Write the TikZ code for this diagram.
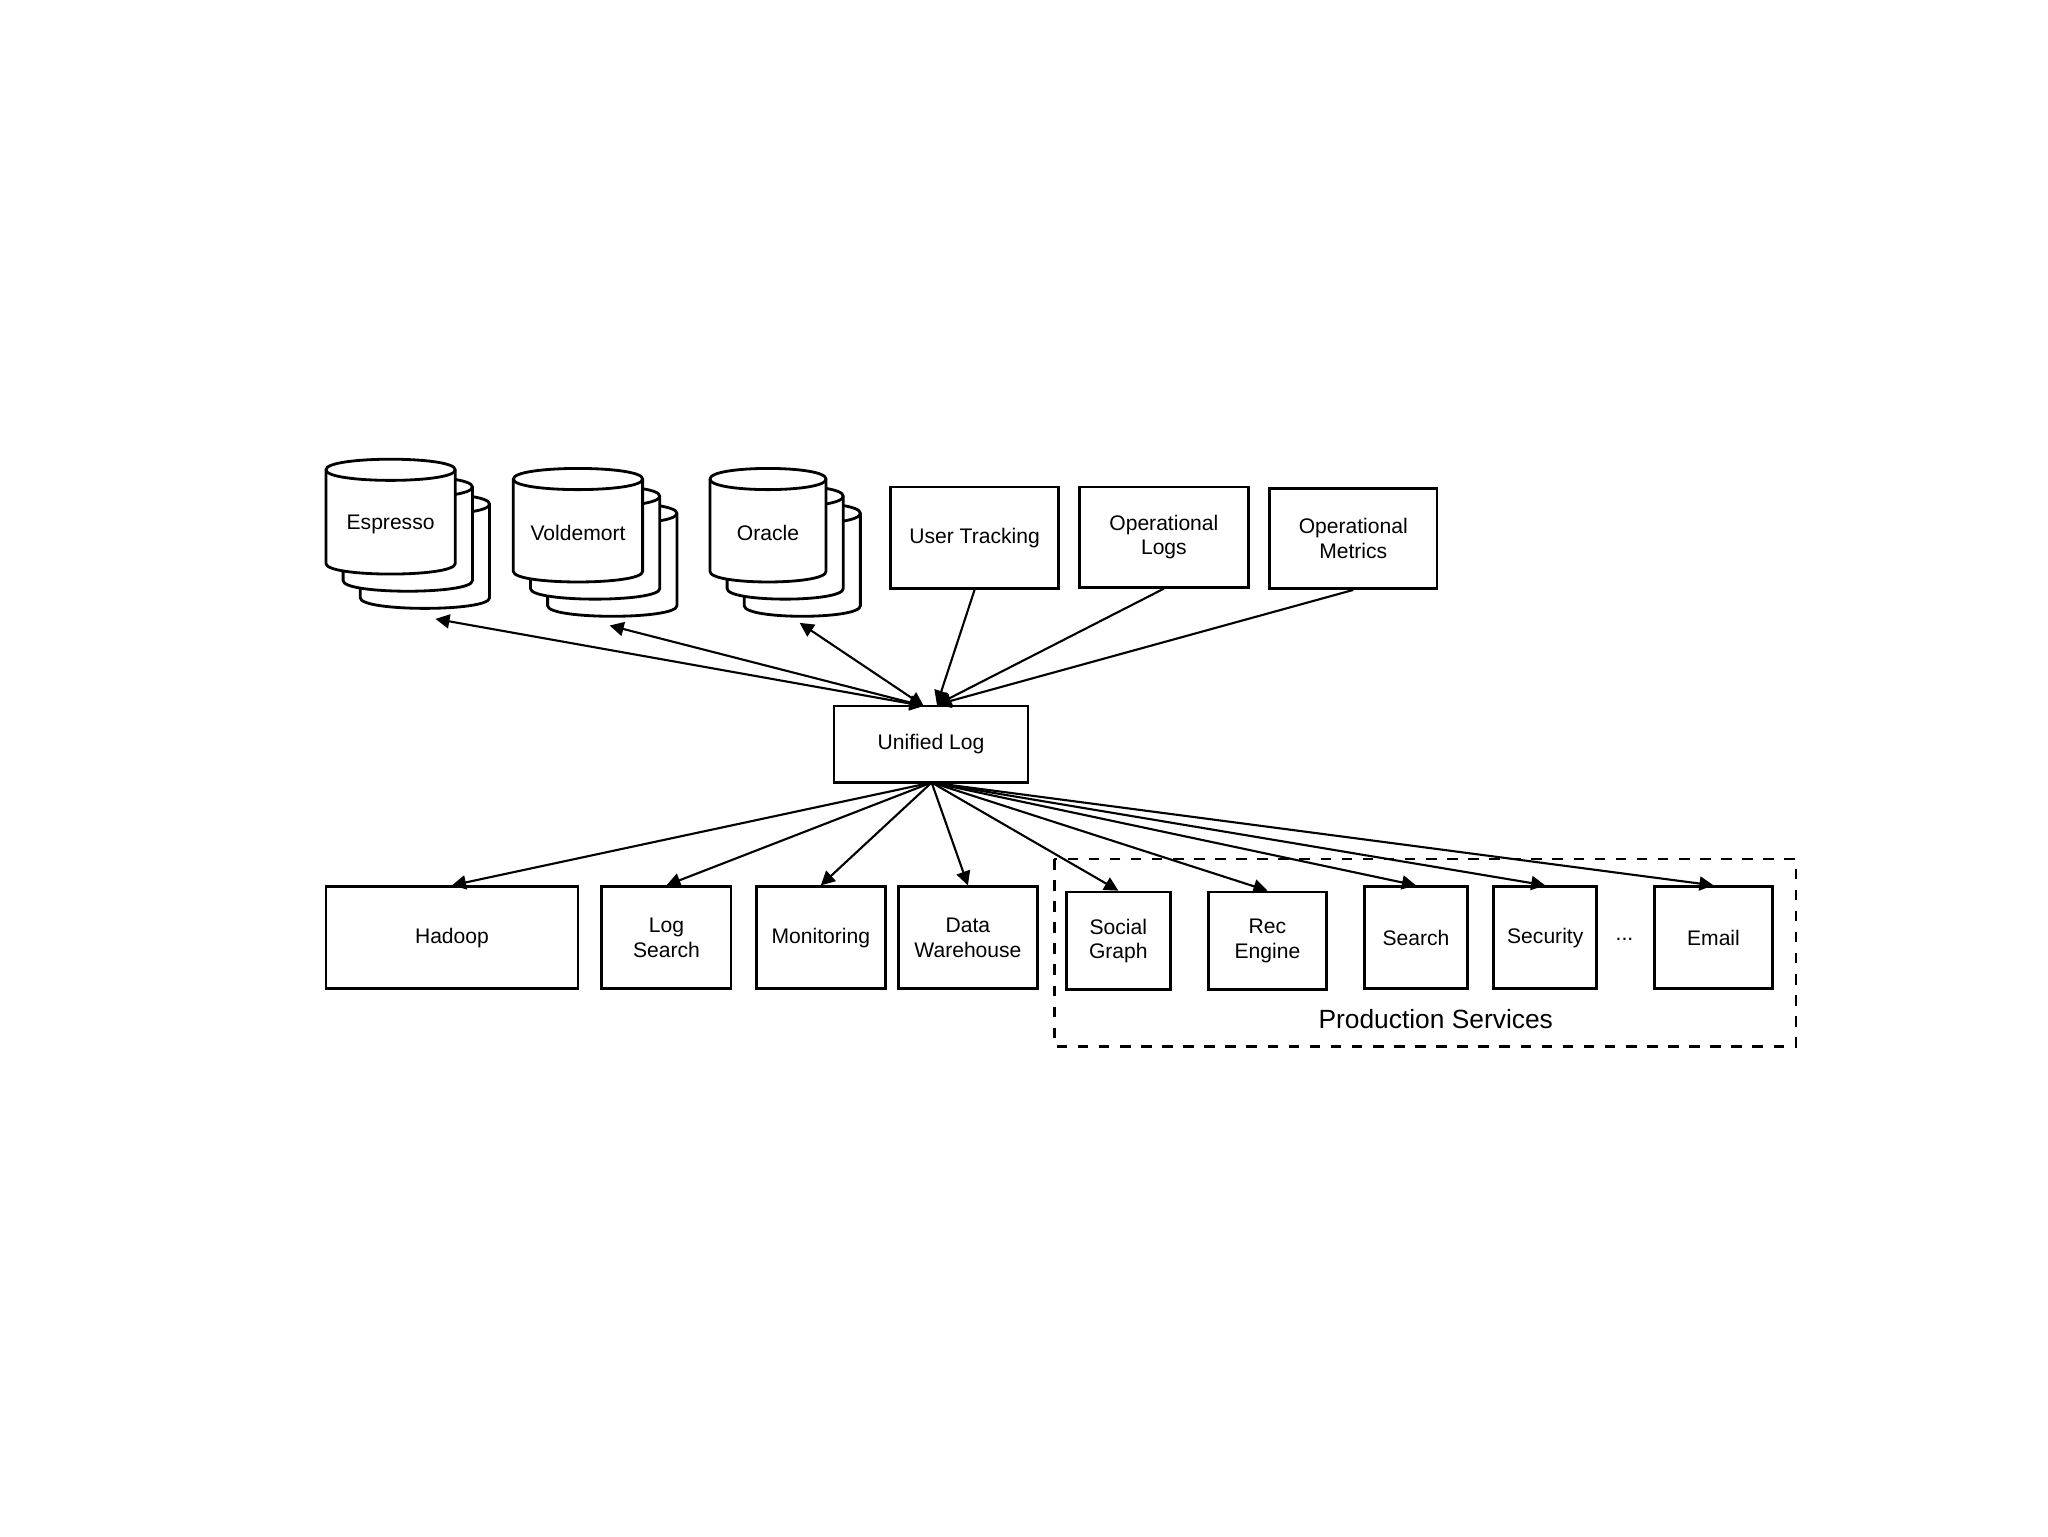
\documentclass[tikz,border=0pt]{standalone}
\usepackage{fontspec}
\setmainfont{Liberation Sans}
\usetikzlibrary{arrows.meta}
\begin{document}
\begin{tikzpicture}[x=0.0132cm,y=-0.0132cm,
  box/.style={draw,thick,align=center,font=\fontsize{6}{7}\selectfont,inner sep=0pt},
  arr/.style={-{Triangle[length=4pt,width=4pt]},semithick},
  barr/.style={{Triangle[length=4pt,width=4pt]}-{Triangle[length=4pt,width=4pt]},semithick}]
\useasboundingbox (0,0) rectangle (1552,1164);
\newcommand\cylo[4]{% x, topcenter y, width, bottomcenter y
 \filldraw[fill=white,thick] (#1,#2) .. controls (#1,#2-10.7) and (#1+#3,#2-10.7) .. (#1+#3,#2) -- (#1+#3,#4) .. controls (#1+#3,#4+10.7) and (#1,#4+10.7) .. (#1,#4) -- cycle;
 \draw[thick] (#1,#2) .. controls (#1,#2+10.7) and (#1+#3,#2+10.7) .. (#1+#3,#2);}
\newcommand\stack[5]{% x, top, w, bottom, label
 \cylo{#1+26}{#2+26}{#3}{#4+26}\cylo{#1+13}{#2+13}{#3}{#4+13}\cylo{#1}{#2}{#3}{#4}
 \node[font=\fontsize{6}{7}\selectfont] at (#1+#3/2,#2/2+#4/2+6) {#5};}
\stack{247}{356}{98}{427}{Espresso}
\stack{389}{363}{98}{433}{Voldemort}
\stack{538}{363}{88}{433}{Oracle}
\coordinate (esp) at (330,469);
\coordinate (vol) at (462,474);
\coordinate (ora) at (606,472);
\node[box,minimum width=127*0.0132cm,minimum height=77*0.0132cm] (ut) at (738.5,407.5) {User Tracking};
\node[box,minimum width=128*0.0132cm,minimum height=76*0.0132cm] (ol) at (882,407) {Operational\\Logs};
\node[box,minimum width=127*0.0132cm,minimum height=76*0.0132cm] (om) at (1025.5,408) {Operational\\Metrics};
\node[box,minimum width=147*0.0132cm,minimum height=58*0.0132cm] (ul) at (705.5,564) {Unified Log};
\node[box,minimum width=191*0.0132cm,minimum height=77*0.0132cm] (had) at (342.5,710.5) {Hadoop};
\node[box,minimum width=98*0.0132cm,minimum height=77*0.0132cm] (ls) at (505,710.5) {Log\\Search};
\node[box,minimum width=98*0.0132cm,minimum height=77*0.0132cm] (mon) at (622,710.5) {Monitoring};
\node[box,minimum width=105*0.0132cm,minimum height=77*0.0132cm] (dw) at (733.5,710.5) {Data\\Warehouse};
\node[box,minimum width=79*0.0132cm,minimum height=74*0.0132cm] (sg) at (847.5,713) {Social\\Graph};
\node[box,minimum width=89*0.0132cm,minimum height=74*0.0132cm] (re) at (960.5,713) {Rec\\Engine};
\node[box,minimum width=78*0.0132cm,minimum height=77*0.0132cm] (se) at (1073,710.5) {Search};
\node[box,minimum width=78*0.0132cm,minimum height=77*0.0132cm] (sec) at (1171,710.5) {Security};
\node[font=\fontsize{6}{7}\selectfont] (dots) at (1231,712) {...};
\node[box,minimum width=89*0.0132cm,minimum height=77*0.0132cm] (em) at (1298.5,710.5) {Email};
\draw[thick,dashed] (799,651) rectangle (1361,793);
\node[font=\fontsize{7.5}{9}\selectfont] (ps) at (1088,772) {Production Services};
\coordinate (ut1) at (700,535);
\coordinate (ut2) at (710,534);
\coordinate (ub) at (706,593);
\draw[barr] (esp) -- (ut1);
\draw[barr] (vol) -- (ut1);
\draw[barr] (ora) -- (ut1);
\draw[arr] (ut.south) -- (ut2);
\draw[arr] (ol.south) -- (ut2);
\draw[arr] (om.south) -- (ut2);
\draw[arr] (ub) -- (had.north);
\draw[arr] (ub) -- (ls.north);
\draw[arr] (ub) -- (mon.north);
\draw[arr] (ub) -- (dw.north);
\draw[arr] (ub) -- (sg.north);
\draw[arr] (ub) -- (re.north);
\draw[arr] (ub) -- (se.north);
\draw[arr] (ub) -- (sec.north);
\draw[arr] (ub) -- (em.north);
\end{tikzpicture}
\end{document}
